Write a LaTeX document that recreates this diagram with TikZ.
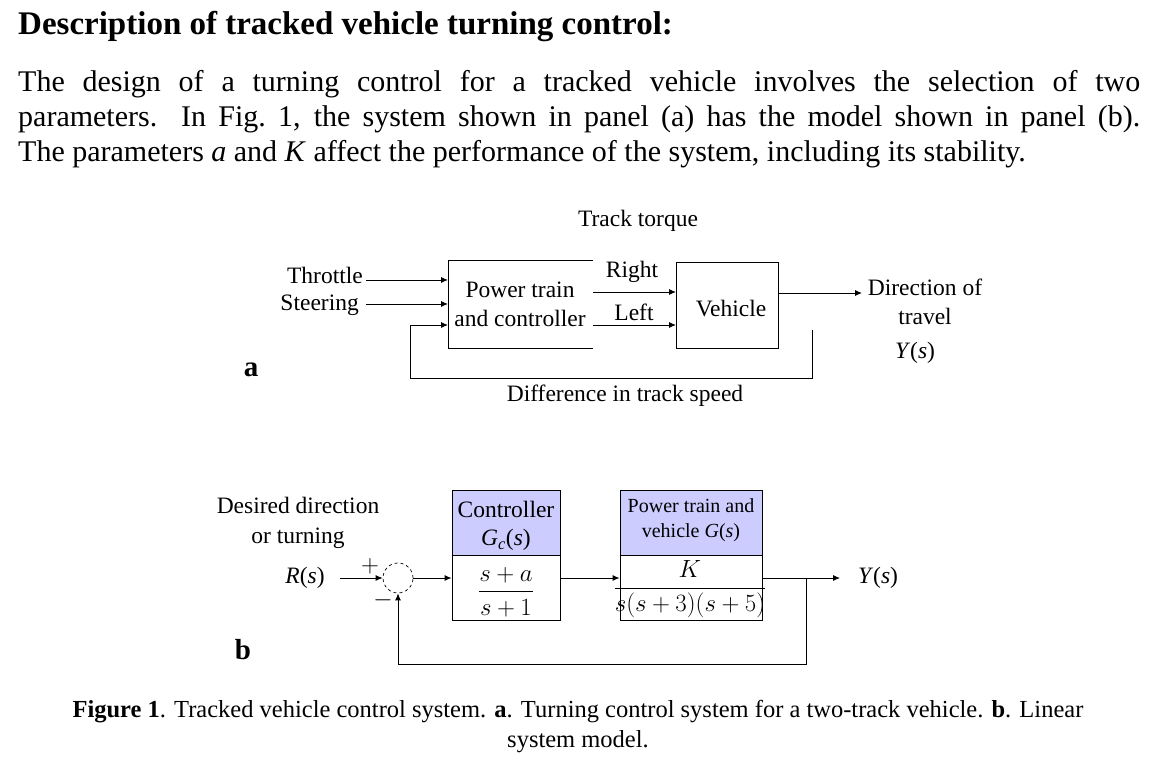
\documentclass[tikz,border=0pt]{standalone}
\usepackage{amsmath}
\usepackage{fontspec}
\setmainfont{Liberation Serif}
\usetikzlibrary{arrows.meta}
\begin{document}
\begin{tikzpicture}[x=1pt,y=-1pt,
  lab/.style={font=\fontsize{23.5}{26}\selectfont,inner sep=0pt},
  ln/.style={line width=0.9pt},
  arr/.style={ln,-{Latex[length=7pt,width=6pt]}},
  blk/.style={draw,line width=0.9pt,inner sep=0pt}]
\useasboundingbox (0,0) rectangle (1171,781);
\node[anchor=west,inner sep=0pt,font=\fontsize{33}{36}\selectfont\bfseries] (title) at (18,27) {Description of tracked vehicle turning control:};
\node[anchor=north west,inner sep=0pt,text width=1122pt,align=justify,font=\fontsize{30}{35}\selectfont] (para) at (18,70)
 {The design of a turning control for a tracked vehicle involves the selection of two\linebreak parameters. In Fig.~1, the system shown in panel (a) has the model shown in panel (b).\linebreak The parameters \textit{a} and \textit{K} affect the performance of the system, including its stability.};
% panel a
\node[lab] (tt) at (638,221) {Track torque};
\draw[ln] (593,260) -- (448,260) -- (448,348) -- (593,348);
\coordinate (pt) at (448,260);
\node[lab,align=center] (ptl) at (520,304) {Power train\\[3pt]and controller};
\node[blk,minimum width=102pt,minimum height=86pt] (veh) at (727,305) {};
\node[lab] (vl) at (731,309) {Vehicle};
\coordinate (r1) at (593,292); \coordinate (r2) at (676,292);
\coordinate (l1) at (593,325); \coordinate (l2) at (676,325);
\draw[arr] (r1) -- (r2); \draw[arr] (l1) -- (l2);
\node[lab] (rl) at (632,272) {Right};
\node[lab] (ll) at (634,312) {Left};
\node[lab,anchor=east] (thr) at (363,275) {Throttle};
\node[lab,anchor=east] (ste) at (359,305) {Steering};
\coordinate (t1) at (366,280); \coordinate (t2) at (448,280);
\coordinate (s1) at (366,304); \coordinate (s2) at (448,304);
\draw[arr] (t1) -- (t2); \draw[arr] (s1) -- (s2);
\coordinate (o1) at (778,293); \coordinate (o2) at (862,293);
\draw[arr] (o1) -- (o2);
\node[lab,align=center] (dir) at (925,302) {Direction of\\[3pt]travel};
\node[lab] (ya) at (915,353) {\textit{Y}(\textit{s})};
\coordinate (f0) at (812,330); \coordinate (f1) at (812,378); \coordinate (f2) at (410,378); \coordinate (f3) at (410,325); \coordinate (f4) at (448,325);
\draw[arr] (f0) -- (f1) -- (f2) -- (f3) -- (f4);
\node[lab] (dts) at (625,396) {Difference in track speed};
\node[inner sep=0pt,font=\fontsize{29}{30}\selectfont\bfseries] (a) at (251,370) {a};
% panel b
\fill[blue!20] (452,490) rectangle (560,555);
\fill[blue!20] (620,490) rectangle (762,555);
\node[blk,minimum width=108pt,minimum height=130pt] (ctl) at (506,555) {};
\node[blk,minimum width=142pt,minimum height=130pt] (pl) at (691,555) {};
\draw[ln] (ctl.west |- 0,555) -- (ctl.east |- 0,555);
\draw[ln] (pl.west |- 0,555) -- (pl.east |- 0,555);
\node[lab,align=center] (ctt) at (506,526) {Controller\\[2pt]\textit{G\textsubscript{c}}(\textit{s})};
\node[lab,align=center,font=\fontsize{20}{22}\selectfont] (plt) at (691,520) {Power train and\\[3pt]vehicle \textit{G}(\textit{s})};
\node[lab] (cf) at (506,592) {$\dfrac{s+a}{s+1}$};
\node[lab] (pf) at (690,589) {$\dfrac{K}{s(s+3)(s+5)}$};
\node[draw,dashed,circle,minimum size=30pt,inner sep=0pt,line width=0.7pt] (sum) at (398,578) {};
\node[lab] (rs) at (305,578) {\textit{R}(\textit{s})};
\coordinate (rin) at (340,578);
\draw[arr] (rin) -- (sum.west);
\node[lab] (plus) at (370,566) {$+$};
\node[lab] (minus) at (383,600) {$-$};
\draw[arr] (sum.east) -- (ctl.west |- sum.east);
\draw[arr] (ctl.east |- 0,578) -- (pl.west |- 0,578);
\coordinate (yo) at (840,578); \coordinate (br) at (806,578);
\draw[arr] (pl.east |- 0,578) -- (yo);
\node[lab] (ys) at (878,578) {\textit{Y}(\textit{s})};
\coordinate (b1) at (806,664); \coordinate (b2) at (398,664);
\draw[arr] (br) -- (b1) -- (b2) -- (sum.south);
\node[lab,align=center] (des) at (298,523) {Desired direction\\[4pt]or turning};
\node[inner sep=0pt,font=\fontsize{29}{30}\selectfont\bfseries] (b) at (243,650) {b};
\node[inner sep=0pt,align=center,font=\fontsize{24.5}{30}\selectfont] (cap) at (578,727)
 {\textbf{Figure 1}. Tracked vehicle control system. \textbf{a}. Turning control system for a two-track vehicle. \textbf{b}. Linear\\system model.};
\end{tikzpicture}
\end{document}
